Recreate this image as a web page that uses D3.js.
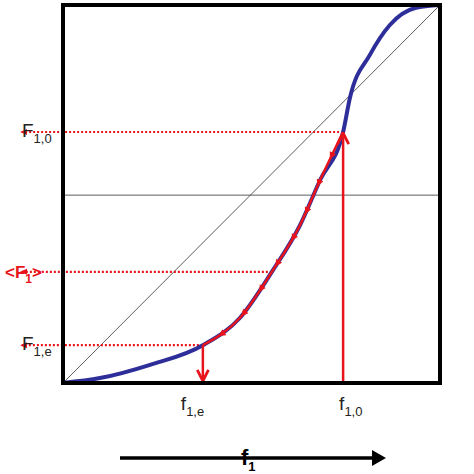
<!DOCTYPE html>
<html><head><meta charset="utf-8">
<script src="https://cdn.jsdelivr.net/npm/d3@7"></script>
<style>body{margin:0;background:#fff}</style></head>
<body><svg id="c" width="474" height="474"></svg>
<script>
// curve (f1, F1)
const curveX = [0, 0.098, 0.231, 0.371, 0.469, 0.554, 0.629, 0.682, 0.743, 0.761, 0.814, 0.867, 0.934, 1];
const curveY = [0, 0.013, 0.048, 0.100, 0.172, 0.294, 0.418, 0.537, 0.664, 0.754, 0.868, 0.947, 0.992, 1];
const midLine = 0.497;
const f10 = 0.743, F10 = 0.664;
const f1e = 0.371, F1e = 0.100;
const fAvg = 0.554, FAvg = 0.294;

const svg = d3.select("#c");
const x = d3.scaleLinear().domain([0, 1]).range([63, 440]);
const y = d3.scaleLinear().domain([0, 1]).range([383, 5]);
const red = "#e8141c", blue = "#2e2e9a";

const defs = svg.append("defs");
function marker(id, w, h) {
    defs.append("marker").attr("id", id).attr("viewBox", "0 0 10 10")
        .attr("refX", 9).attr("refY", 5).attr("markerWidth", w).attr("markerHeight", h)
        .attr("orient", "auto").attr("markerUnits", "userSpaceOnUse")
        .append("path").attr("d", "M1,1 L9,5 L1,9").attr("fill", "none")
        .attr("stroke", red).attr("stroke-width", 2);
}
marker("open", 14, 14);
defs.append("marker").attr("id", "dot").attr("viewBox", "0 0 10 10")
    .attr("refX", 2).attr("refY", 5).attr("markerWidth", 8).attr("markerHeight", 6)
    .attr("orient", "auto-start-reverse").attr("markerUnits", "userSpaceOnUse")
    .append("path").attr("d", "M0,5 L10,0 L10,10Z").attr("fill", red);

// diagonal and mid line
svg.append("line").attr("x1", x(0)).attr("y1", y(0)).attr("x2", x(1)).attr("y2", y(1))
    .attr("stroke", "#333").attr("stroke-width", 0.8);
svg.append("line").attr("x1", x(0)).attr("x2", x(1)).attr("y1", y(midLine)).attr("y2", y(midLine))
    .attr("stroke", "#333").attr("stroke-width", 0.8);

// dotted horizontal arrows
[F10, FAvg, F1e].forEach((F, i) => {
    const fx = [f10, fAvg, f1e][i];
    svg.append("line").attr("x1", x(fx)).attr("y1", y(F)).attr("x2", 22).attr("y2", y(F))
        .attr("stroke", red).attr("stroke-width", 2.2).attr("stroke-dasharray", "2,2");
    svg.append("path").attr("d", `M20,${y(F)} l7,-3 l0,6z`).attr("fill", red);
});

// blue curve
const pts = curveX.map((v, i) => [v, curveY[i]]);
const line = d3.line().x(d => x(d[0])).y(d => y(d[1])).curve(d3.curveMonotoneX);
svg.append("path").attr("d", line(pts)).attr("fill", "none").attr("stroke", blue).attr("stroke-width", 4);

// red path along curve from f1,0 down to f1,e
const seg = pts.filter(d => d[0] >= f1e - 1e-6 && d[0] <= f10 + 1e-6).reverse();
const rp = svg.append("path").attr("d", line(seg)).attr("fill", "none").attr("stroke", red).attr("stroke-width", 2.5);
const node = rp.node(), L = node.getTotalLength();
for (let k = 1; k <= 8; k++) {
    const s = L * k / 8.6;
    const p = node.getPointAtLength(s), q = node.getPointAtLength(s - 2);
    const a = Math.atan2(p.y - q.y, p.x - q.x) * 180 / Math.PI;
    svg.append("path").attr("d", "M0,0 L-7,-3.5 L-7,3.5Z").attr("fill", red)
        .attr("transform", `translate(${p.x},${p.y}) rotate(${a})`);
}

// vertical arrows
svg.append("line").attr("x1", x(f10)).attr("x2", x(f10)).attr("y1", y(0)).attr("y2", y(F10) + 1)
    .attr("stroke", red).attr("stroke-width", 2.5).attr("marker-end", "url(#open)");
svg.append("line").attr("x1", x(f1e)).attr("x2", x(f1e)).attr("y1", y(F1e)).attr("y2", y(0) - 2)
    .attr("stroke", red).attr("stroke-width", 2.5).attr("marker-end", "url(#open)");

// frame
svg.append("rect").attr("x", x(0)).attr("y", y(1)).attr("width", x(1) - x(0)).attr("height", y(0) - y(1))
    .attr("fill", "none").attr("stroke", "#000").attr("stroke-width", 4);

// labels
const font = "Arial, 'Liberation Sans', sans-serif";
function lab(t, sub, xx, yy, col, bold, anchor) {
    const tx = svg.append("text").attr("x", xx).attr("y", yy).attr("font-family", font)
        .attr("font-size", 19).attr("fill", col).attr("text-anchor", anchor || "start")
        .attr("font-weight", bold ? "bold" : "normal");
    tx.append("tspan").text(t);
    tx.append("tspan").attr("font-size", 13).attr("dy", 6).text(sub);
    return tx;
}
lab("F", "1,0", 22, y(F10) + 5, "#222");
lab("F", "1,e", 22, y(F1e) + 5, "#222");
const av = svg.append("text").attr("x", 5).attr("y", y(FAvg) + 6).attr("font-family", font)
    .attr("font-size", 17).attr("font-weight", "bold").attr("fill", red);
av.append("tspan").text("<F");
av.append("tspan").attr("font-size", 12).attr("dy", 5).text("1");
av.append("tspan").attr("dy", -5).text(">");
lab("f", "1,e", x(f1e) - 22, 410, "#222");
lab("f", "1,0", x(f10) - 4, 410, "#222");

// bottom axis arrow
svg.append("line").attr("x1", 120).attr("x2", 378).attr("y1", 458).attr("y2", 458)
    .attr("stroke", "#000").attr("stroke-width", 3.5);
svg.append("path").attr("d", "M386,458 l-14,-8 l0,16z").attr("fill", "#000");
lab("f", "1", 241, 465, "#000", true).attr("font-size", 22);
</script></body></html>
